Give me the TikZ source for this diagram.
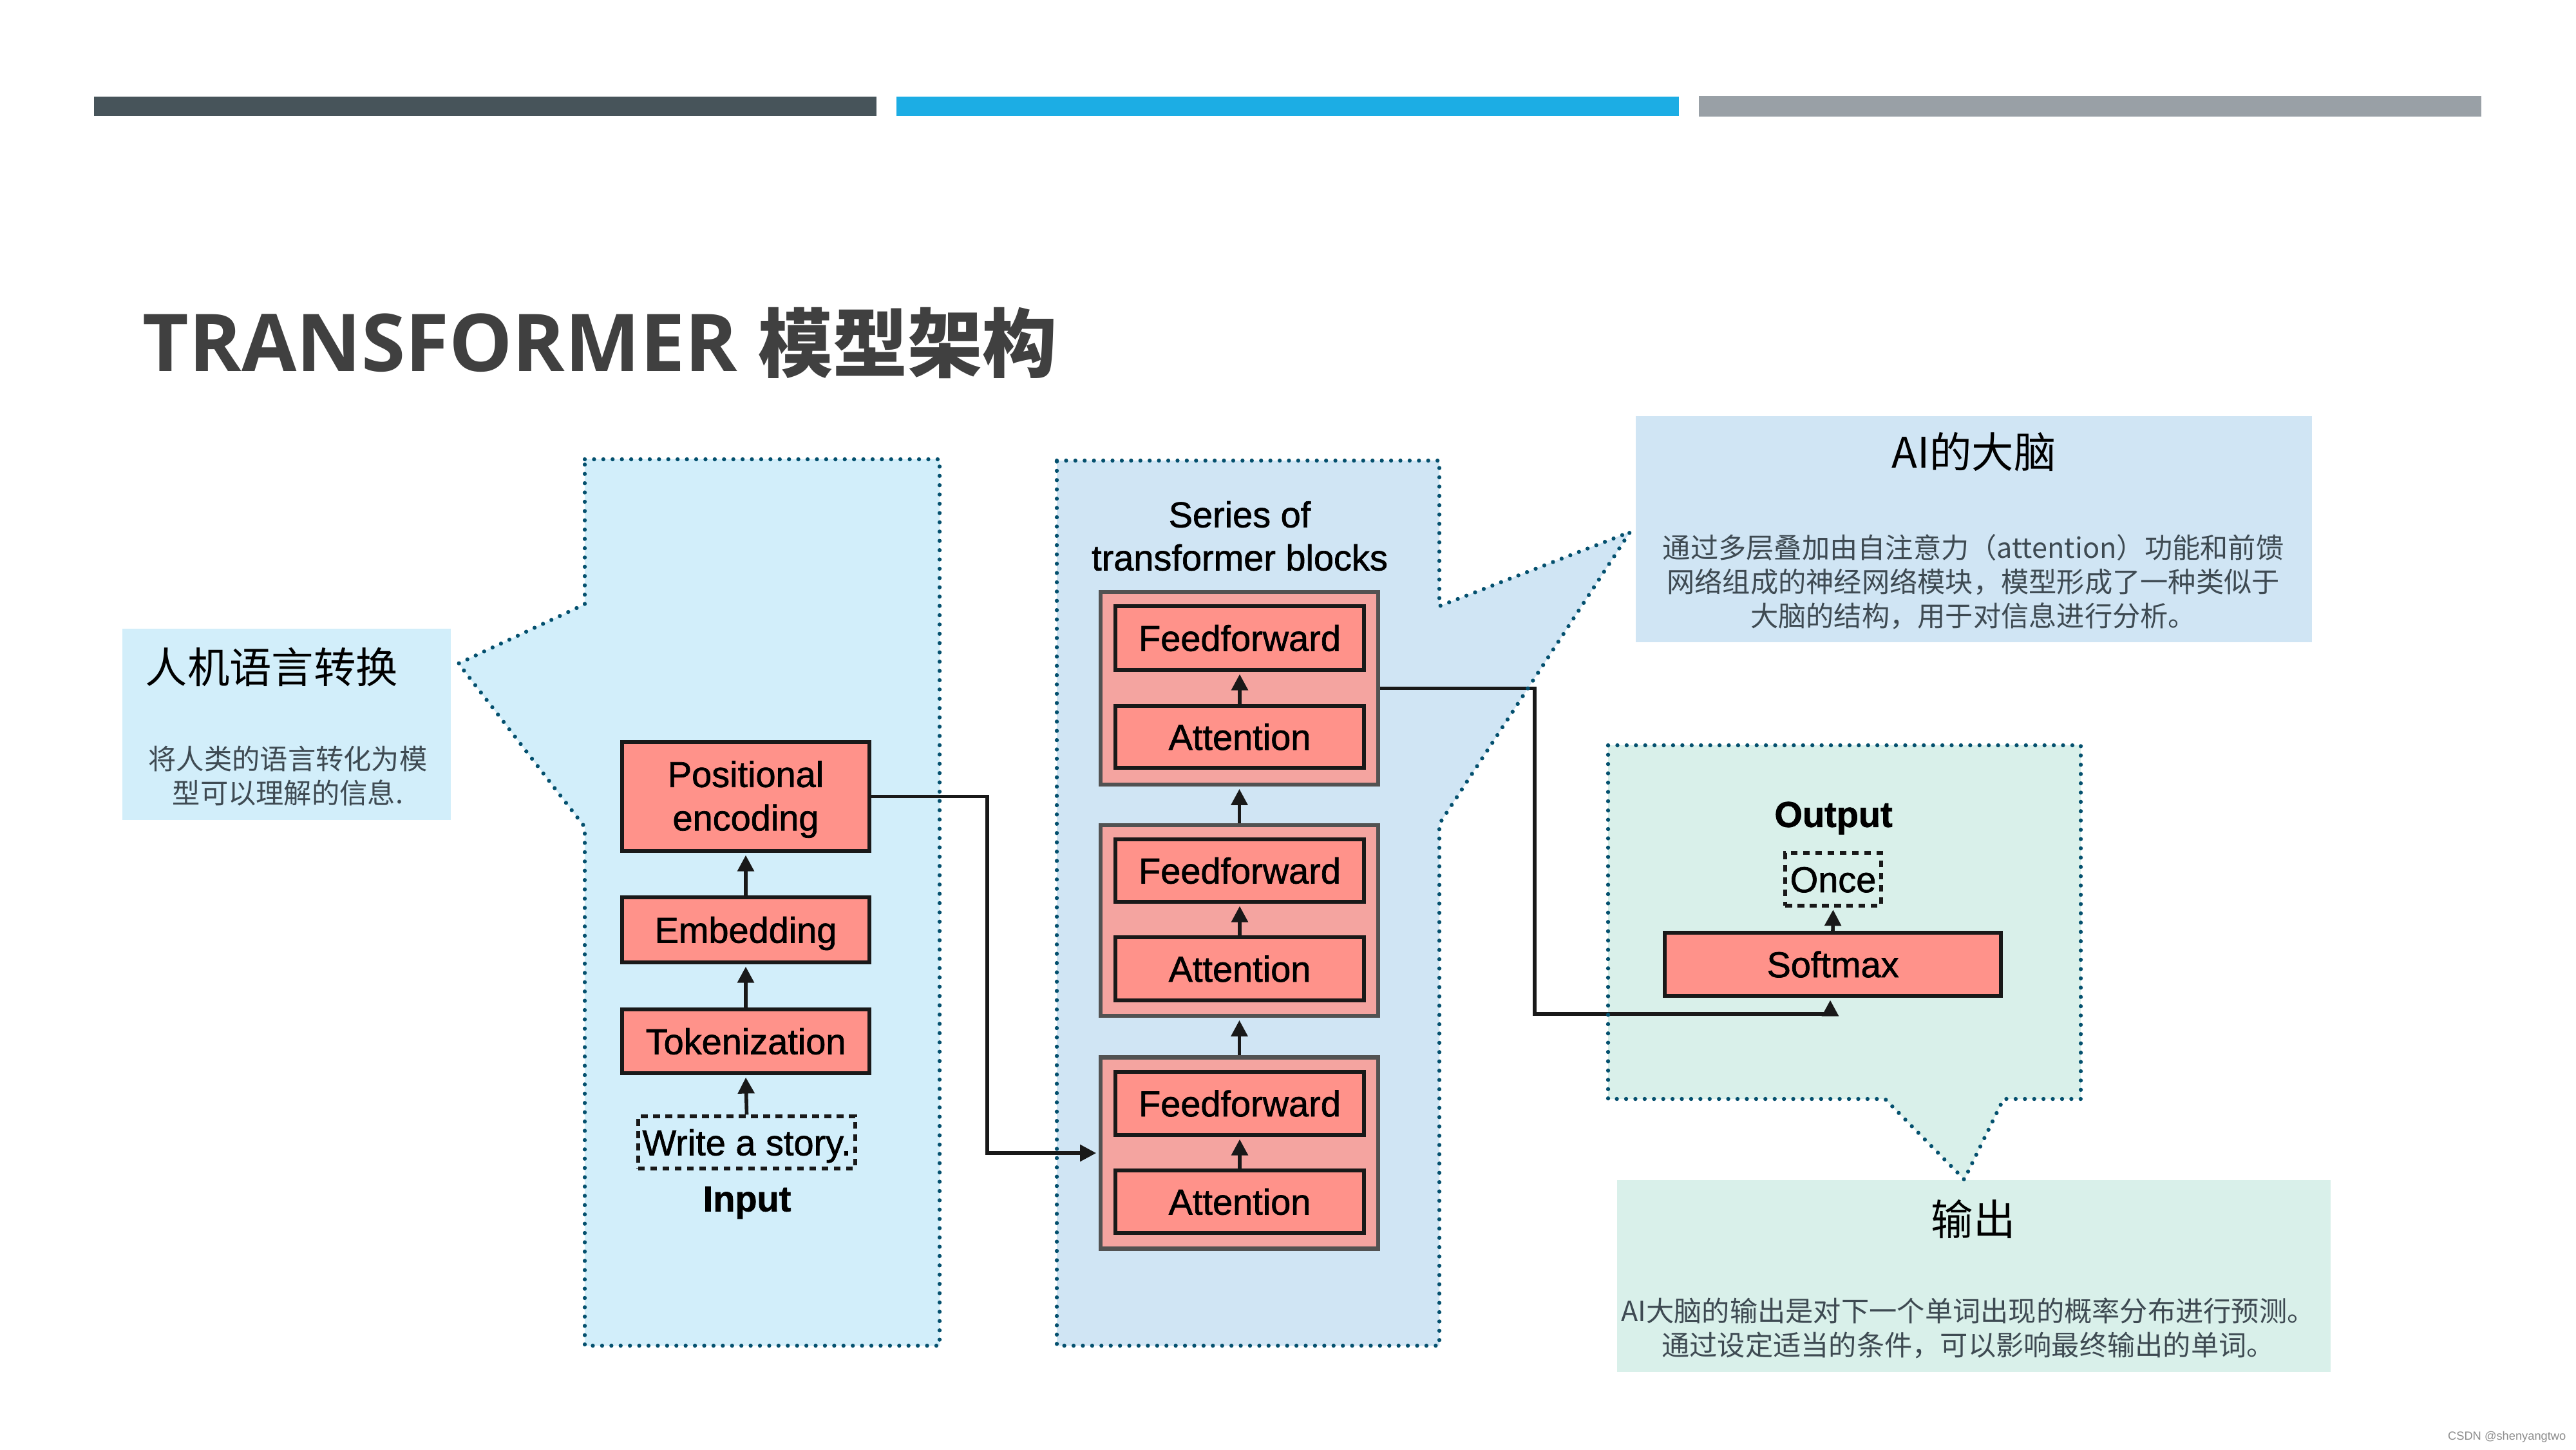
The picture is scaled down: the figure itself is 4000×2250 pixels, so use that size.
\documentclass[tikz,border=0pt]{standalone}
\usepackage{fontspec}
\setmainfont{Liberation Sans}
\newfontfamily\labfont{Liberation Sans}[FakeBold=1.2]
\newfontfamily\cjk{Noto Sans CJK SC}
\newfontfamily\headfont{Open Sans}[BoldFont={Open Sans Bold}]
\usetikzlibrary{arrows.meta}
\definecolor{barA}{HTML}{47545A}
\definecolor{barB}{HTML}{1CADE4}
\definecolor{barC}{HTML}{99A0A6}
\definecolor{inFill}{HTML}{D2EEFA}
\definecolor{midFill}{HTML}{D0E5F4}
\definecolor{outFill}{HTML}{D9F0EA}
\definecolor{dotLine}{HTML}{04506E}
\definecolor{redBox}{HTML}{FF928A}
\definecolor{redBlock}{HTML}{F4A4A0}
\definecolor{bodyText}{HTML}{3E4A52}
\newcommand{\inShape}{(908,713) -- (1459,713) -- (1459,2089) -- (908,2089) -- (908,1284) -- (712,1030) -- (908,938) -- cycle}
\newcommand{\midShape}{(1641,715) -- (2235,715) -- (2235,941) -- (2531,826) -- (2235,1279) -- (2235,2089) -- (1641,2089) -- cycle}
\newcommand{\outShape}{(2497,1157) -- (3231,1157) -- (3231,1706) -- (3111,1706) -- (3050,1831) -- (2927,1706) -- (2497,1706) -- cycle}
\tikzset{
  callout/.style={draw=dotLine, line width=1.8pt, line cap=round, line join=round, dash pattern=on 0pt off 4.1pt},
  note/.style={inner sep=0pt, draw=none},
  head/.style={font=\cjk\fontsize{18.6}{22}\selectfont, text=black, inner sep=0pt},
  body/.style={font=\cjk\fontsize{12.3}{15.1}\selectfont, text=bodyText, align=center, inner sep=0pt},
  lbl/.style={font=\labfont\fontsize{15.9}{19}\selectfont, text=black, inner sep=0pt},
  box/.style={draw=black!90, line width=1.7pt, fill=redBox, inner sep=0pt, text=black, text height=0.50cm, text depth=0.10cm, font=\labfont\fontsize{15.9}{19.2}\selectfont},
  block/.style={draw=black!68, line width=1.8pt, fill=redBlock, inner sep=0pt},
  dashbox/.style={draw=black!90, line width=1.5pt, dash pattern=on 3pt off 2.4pt, inner sep=0pt, text height=0.50cm, text depth=0.10cm, font=\labfont\fontsize{15.9}{19}\selectfont},
  conn/.style={draw=black!90, line width=1.6pt, shorten >=1pt, -{Triangle[length=0.25cm, width=0.25cm]}},
}
\begin{document}
\begin{tikzpicture}[x=0.01cm, y=-0.01cm]
\useasboundingbox (0,0) rectangle (4000,2250);

% Bars
\fill[barA] (146,150) rectangle (1361,180);
\fill[barB] (1392,150) rectangle (2607,180);
\fill[barC] (2638,149) rectangle (3853,181);

% Title
\node[inner sep=0pt, anchor=base west, text=black!75] (title) at (221,576)
  {\headfont\bfseries\fontsize{35.2}{40}\selectfont TRANSFORMER {\cjk\bfseries\fontsize{33}{40}\selectfont 模型架构}};

% Callout fills
\fill[inFill] \inShape;
\fill[midFill] \midShape;
\fill[outFill] \outShape;

% Notes
\node[note, fill=inFill, minimum width=5.10cm, minimum height=2.97cm] (noteL) at (445,1124.5) {};
\node[note, fill=midFill, minimum width=10.50cm, minimum height=3.51cm] (noteT) at (3065,821.5) {};
\node[note, fill=outFill, minimum width=11.08cm, minimum height=2.98cm] (noteB) at (3065,1981) {};
\node[head, anchor=west] (headL) at (225,1036) {人机语言转换};
\node[head] (headT) at (3065,702) {AI的大脑};
\node[head] (headB) at (3064,1892) {输出};
\node[body] (bodyL) at (447,1205) {将人类的语言转化为模\\型可以理解的信息.};
\node[body] (bodyT) at (3064,903) {通过多层叠加由自注意力（attention）功能和前馈\\网络组成的神经网络模块，模型形成了一种类似于\\大脑的结构，用于对信息进行分析。};
\node[body] (bodyB) at (3056,2062) {AI大脑的输出是对下一个单词出现的概率分布进行预测。\\通过设定适当的条件，可以影响最终输出的单词。};

% Input column
\node[box, minimum width=3.84cm, minimum height=1.69cm] (pos) at (1158,1236.5) {};
\node[lbl, align=center, font=\labfont\fontsize{15.9}{19.2}\selectfont] (posText) at (1158,1241) {Positional\\encoding};
\node[box, minimum width=3.84cm, minimum height=1.01cm] (emb) at (1158,1443.5) {Embedding};
\node[box, minimum width=3.84cm, minimum height=0.99cm] (tok) at (1158,1616.5) {Tokenization};
\node[dashbox, minimum width=3.37cm, minimum height=0.81cm] (story) at (1159.5,1773.5) {Write a story.};
\node[lbl, font=\labfont\bfseries\fontsize{15.9}{19}\selectfont] (input) at (1160,1867) {Input};
\draw[conn] (story.north) -- (tok.south);
\draw[conn] (tok.north) -- (emb.south);
\draw[conn] (emb.north) -- (pos.south);

% Transformer blocks
\node[lbl, align=center] (series) at (1925,832) {Series of\\transformer blocks};
\node[block, minimum width=4.31cm, minimum height=2.99cm] (blockA) at (1924.5,1068.5) {};
\node[block, minimum width=4.31cm, minimum height=2.96cm] (blockB) at (1924.5,1429) {};
\node[block, minimum width=4.31cm, minimum height=2.97cm] (blockC) at (1924.5,1790) {};
\node[box, minimum width=3.86cm, minimum height=0.99cm] (ffA) at (1925,990.5) {Feedforward};
\node[box, minimum width=3.86cm, minimum height=0.96cm] (atA) at (1925,1144) {Attention};
\node[box, minimum width=3.86cm, minimum height=0.97cm] (ffB) at (1925,1351.5) {Feedforward};
\node[box, minimum width=3.86cm, minimum height=0.98cm] (atB) at (1925,1504) {Attention};
\node[box, minimum width=3.86cm, minimum height=0.98cm] (ffC) at (1925,1713) {Feedforward};
\node[box, minimum width=3.86cm, minimum height=0.97cm] (atC) at (1925,1865.5) {Attention};
\draw[conn] (atA.north) -- (ffA.south);
\draw[conn] (atB.north) -- (ffB.south);
\draw[conn] (atC.north) -- (ffC.south);
\draw[conn] (blockC.north) -- (blockB.south);
\draw[conn] (blockB.north) -- (blockA.south);

% Output column
\node[box, minimum width=5.22cm, minimum height=0.98cm] (soft) at (2846,1497) {Softmax};
\node[dashbox, minimum width=1.49cm, minimum height=0.82cm] (once) at (2846.5,1365) {Once};
\node[lbl, font=\labfont\bfseries\fontsize{15.9}{19}\selectfont] (output) at (2847,1270) {Output};
\draw[conn] (soft.north) -- (once.south);

% Long connectors
\coordinate (turnA) at (1533,1236.5);
\coordinate (turnB) at (2383,1068.5);
\coordinate (turnC) at (2383,1574);
\coordinate (turnD) at (2842,1574);
\draw[conn] (pos.east) -- (turnA) |- (blockC.west);
\draw[conn] (blockA.east) -- (turnB) -- (turnC) -- (turnD) -- (turnD |- soft.south);

% Callout outlines
\draw[callout] \inShape;
\draw[callout] \midShape;
\draw[callout] \outShape;

% Watermark
\node[inner sep=0pt, anchor=east, text=black!45, font=\fontsize{5.2}{6}\selectfont] (mark) at (3985,2231) {CSDN @shenyangtwo};
\end{tikzpicture}
\end{document}
